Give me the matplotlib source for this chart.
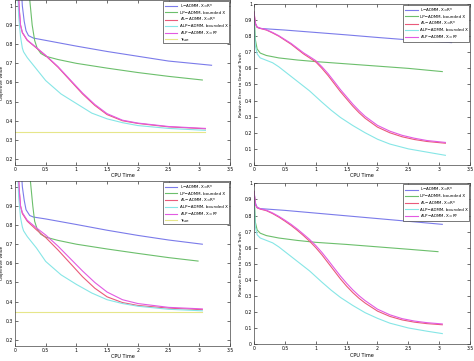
import matplotlib
matplotlib.use('Agg')
import matplotlib.pyplot as plt

# legend labels and colours
labels = ['L\u2212ADMM, X=R$^n$', 'LP\u2212ADMM, bounded X', 'AL\u2212ADMM, X=R$^n$',
          'ALP\u2212ADMM, bounded X', 'ALP\u2212ADMM, X=R$^n$', 'True']
colors = ['#7b7bea', '#6cbf6c', '#ea5a7a', '#86e6e6', '#e25ae2', '#e6e68a']

# ---- top-left: objective value, run 1
t_L1 = [0.10, 0.12, 0.15, 0.18, 0.22, 0.30, 0.50, 1.0, 1.5, 2.0, 2.5, 3.2]
y_L1 = [1.10, 1.00, 0.92, 0.87, 0.845, 0.832, 0.82, 0.79, 0.762, 0.737, 0.712, 0.69]
t_LP1 = [0.22, 0.25, 0.28, 0.32, 0.36, 0.42, 0.50, 0.70, 1.0, 1.5, 2.0, 2.5, 3.05]
y_LP1 = [1.10, 1.00, 0.90, 0.82, 0.78, 0.752, 0.737, 0.72, 0.70, 0.675, 0.652, 0.632, 0.613]
t_AL1 = [0.05, 0.07, 0.09, 0.12, 0.20, 0.35, 0.50, 0.70, 0.90, 1.1, 1.3, 1.5, 1.75, 2.0, 2.5, 3.1]
y_AL1 = [1.10, 0.98, 0.90, 0.86, 0.82, 0.78, 0.74, 0.68, 0.61, 0.54, 0.48, 0.432, 0.40, 0.386, 0.368, 0.358]
t_ALPb1 = [0.04, 0.06, 0.09, 0.12, 0.14, 0.20, 0.35, 0.50, 0.75, 1.0, 1.25, 1.5, 1.75, 2.0, 2.5, 3.1]
y_ALPb1 = [1.10, 0.95, 0.84, 0.78, 0.76, 0.73, 0.67, 0.61, 0.54, 0.49, 0.44, 0.41, 0.39, 0.375, 0.36, 0.35]
t_ALPr1 = [0.05, 0.07, 0.09, 0.12, 0.20, 0.35, 0.50, 0.70, 0.90, 1.1, 1.3, 1.5, 1.75, 2.0, 2.5, 3.1]
y_ALPr1 = [1.10, 0.98, 0.90, 0.862, 0.822, 0.782, 0.742, 0.683, 0.614, 0.545, 0.485, 0.437, 0.403, 0.388, 0.37, 0.36]
t_true1 = [0.0, 3.1]
y_true1 = [0.342, 0.342]

# ---- bottom-left: objective value, run 2
t_L2 = [0.10, 0.12, 0.15, 0.18, 0.24, 0.30, 0.50, 1.0, 1.5, 2.0, 2.5, 3.05]
y_L2 = [1.10, 1.00, 0.93, 0.88, 0.85, 0.842, 0.832, 0.803, 0.773, 0.746, 0.722, 0.70]
t_LP2 = [0.23, 0.26, 0.29, 0.32, 0.36, 0.42, 0.50, 0.70, 1.0, 1.5, 2.0, 2.5, 2.98]
y_LP2 = [1.10, 1.00, 0.90, 0.82, 0.78, 0.752, 0.737, 0.72, 0.70, 0.675, 0.652, 0.63, 0.612]
t_AL2 = [0.05, 0.07, 0.09, 0.12, 0.20, 0.35, 0.50, 0.70, 0.90, 1.1, 1.3, 1.5, 1.75, 2.0, 2.5, 3.05]
y_AL2 = [1.10, 0.98, 0.90, 0.86, 0.82, 0.775, 0.735, 0.67, 0.60, 0.53, 0.47, 0.425, 0.395, 0.38, 0.366, 0.358]
t_ALPb2 = [0.04, 0.06, 0.09, 0.12, 0.14, 0.20, 0.35, 0.50, 0.75, 1.0, 1.25, 1.5, 1.75, 2.0, 2.5, 3.05]
y_ALPb2 = [1.10, 0.95, 0.84, 0.79, 0.77, 0.74, 0.68, 0.61, 0.54, 0.49, 0.445, 0.41, 0.39, 0.376, 0.36, 0.352]
t_ALPr2 = [0.05, 0.07, 0.09, 0.12, 0.20, 0.35, 0.50, 0.70, 0.90, 1.1, 1.3, 1.5, 1.75, 2.0, 2.5, 3.05]
y_ALPr2 = [1.10, 0.98, 0.90, 0.865, 0.825, 0.785, 0.748, 0.69, 0.625, 0.56, 0.50, 0.45, 0.41, 0.39, 0.37, 0.362]
t_true2 = [0.0, 3.05]
y_true2 = [0.345, 0.345]

# ---- top-right: relative error, run 1
t_L3 = [0.0, 0.02, 0.05, 0.10, 0.5, 1.0, 1.5, 2.0, 2.5, 3.2]
y_L3 = [0.93, 0.88, 0.855, 0.848, 0.838, 0.823, 0.808, 0.792, 0.777, 0.76]
t_LP3 = [0.0, 0.02, 0.05, 0.10, 0.2, 0.4, 0.7, 1.0, 1.5, 2.0, 2.5, 3.05]
y_LP3 = [0.95, 0.78, 0.72, 0.695, 0.68, 0.665, 0.652, 0.642, 0.628, 0.614, 0.60, 0.58]
t_AL3 = [0.0, 0.02, 0.05, 0.1, 0.2, 0.3, 0.4, 0.5, 0.6, 0.7, 0.8, 0.9, 1.0, 1.1, 1.2, 1.3,
         1.4, 1.5, 1.6, 1.7, 1.8, 2.0, 2.2, 2.4, 2.6, 2.8, 3.1]
y_AL3 = [0.95, 0.88, 0.855, 0.848, 0.838, 0.82, 0.80, 0.775, 0.75, 0.72, 0.69, 0.665, 0.64, 0.60,
         0.555, 0.505, 0.455, 0.41, 0.365, 0.325, 0.29, 0.235, 0.20, 0.175, 0.158, 0.146, 0.135]
t_ALPb3 = [0.0, 0.02, 0.05, 0.1, 0.2, 0.3, 0.4, 0.5, 0.6, 0.75, 0.9, 1.0, 1.1, 1.25, 1.4, 1.5,
           1.6, 1.8, 2.0, 2.2, 2.5, 2.8, 3.1]
y_ALPb3 = [0.90, 0.74, 0.69, 0.665, 0.65, 0.635, 0.61, 0.58, 0.55, 0.505, 0.46, 0.425, 0.39, 0.34,
           0.295, 0.27, 0.245, 0.20, 0.16, 0.13, 0.10, 0.08, 0.06]
t_ALPr3 = [0.0, 0.02, 0.05, 0.1, 0.2, 0.3, 0.4, 0.5, 0.6, 0.7, 0.8, 0.9, 1.0, 1.1, 1.2, 1.3,
           1.4, 1.5, 1.6, 1.7, 1.8, 2.0, 2.2, 2.4, 2.6, 2.8, 3.1]
y_ALPr3 = [0.95, 0.88, 0.857, 0.85, 0.84, 0.823, 0.803, 0.779, 0.755, 0.726, 0.697, 0.673, 0.648, 0.61,
           0.567, 0.518, 0.468, 0.423, 0.378, 0.338, 0.302, 0.246, 0.21, 0.184, 0.166, 0.152, 0.14]

# ---- bottom-right: relative error, run 2
t_L4 = [0.0, 0.02, 0.05, 0.10, 0.5, 1.0, 1.5, 2.0, 2.5, 3.05]
y_L4 = [0.95, 0.88, 0.85, 0.843, 0.832, 0.815, 0.798, 0.781, 0.764, 0.745]
t_LP4 = [0.0, 0.02, 0.05, 0.10, 0.2, 0.4, 0.7, 1.0, 1.5, 2.0, 2.5, 2.98]
y_LP4 = [0.95, 0.76, 0.71, 0.69, 0.675, 0.66, 0.645, 0.633, 0.62, 0.605, 0.59, 0.575]
t_AL4 = [0.0, 0.02, 0.05, 0.1, 0.2, 0.3, 0.4, 0.5, 0.6, 0.7, 0.8, 0.9, 1.0, 1.1, 1.2, 1.3,
         1.4, 1.5, 1.6, 1.7, 1.8, 2.0, 2.2, 2.4, 2.6, 2.8, 3.05]
y_AL4 = [0.95, 0.87, 0.848, 0.84, 0.83, 0.812, 0.79, 0.765, 0.738, 0.708, 0.675, 0.64, 0.60, 0.555,
         0.505, 0.455, 0.405, 0.36, 0.32, 0.285, 0.255, 0.205, 0.172, 0.15, 0.136, 0.127, 0.12]
t_ALPb4 = [0.0, 0.02, 0.05, 0.1, 0.2, 0.3, 0.4, 0.5, 0.6, 0.75, 0.9, 1.0, 1.1, 1.25, 1.4, 1.5,
           1.6, 1.8, 2.0, 2.2, 2.5, 2.8, 3.05]
y_ALPb4 = [0.90, 0.73, 0.68, 0.66, 0.645, 0.63, 0.605, 0.575, 0.545, 0.50, 0.455, 0.42, 0.385, 0.335,
           0.29, 0.265, 0.24, 0.195, 0.16, 0.13, 0.10, 0.08, 0.065]
t_ALPr4 = [0.0, 0.02, 0.05, 0.1, 0.2, 0.3, 0.4, 0.5, 0.6, 0.7, 0.8, 0.9, 1.0, 1.1, 1.2, 1.3,
           1.4, 1.5, 1.6, 1.7, 1.8, 2.0, 2.2, 2.4, 2.6, 2.8, 3.05]
y_ALPr4 = [0.95, 0.87, 0.85, 0.842, 0.833, 0.816, 0.795, 0.771, 0.745, 0.716, 0.684, 0.651, 0.613, 0.57,
           0.522, 0.472, 0.423, 0.378, 0.337, 0.301, 0.27, 0.217, 0.182, 0.158, 0.143, 0.133, 0.125]

xticks = [0, 0.5, 1, 1.5, 2, 2.5, 3, 3.5]
yticks_obj = [0.2, 0.3, 0.4, 0.5, 0.6, 0.7, 0.8, 0.9, 1]
yticks_err = [0, 0.1, 0.2, 0.3, 0.4, 0.5, 0.6, 0.7, 0.8, 0.9, 1]

panels = [
    # rect, series, ylabel, ylim, yticks
    ([0.0316, 0.543, 0.4536, 0.457],
     [(t_L1, y_L1), (t_LP1, y_LP1), (t_AL1, y_AL1), (t_ALPb1, y_ALPb1), (t_ALPr1, y_ALPr1), (t_true1, y_true1)],
     'Objective Value', (0.169, 1.031), yticks_obj),
    ([0.536, 0.543, 0.4557, 0.446],
     [(t_L3, y_L3), (t_LP3, y_LP3), (t_AL3, y_AL3), (t_ALPb3, y_ALPb3), (t_ALPr3, y_ALPr3)],
     'Relative Error to Ground Truth', (0.0, 1.0), yticks_err),
    ([0.0316, 0.042, 0.4536, 0.457],
     [(t_L2, y_L2), (t_LP2, y_LP2), (t_AL2, y_AL2), (t_ALPb2, y_ALPb2), (t_ALPr2, y_ALPr2), (t_true2, y_true2)],
     'Objective Value', (0.169, 1.031), yticks_obj),
    ([0.536, 0.047, 0.4557, 0.445],
     [(t_L4, y_L4), (t_LP4, y_LP4), (t_AL4, y_AL4), (t_ALPb4, y_ALPb4), (t_ALPr4, y_ALPr4)],
     'Relative Error to Ground Truth', (0.0, 1.0), yticks_err),
]

fig = plt.figure(figsize=(4.74, 3.61), dpi=100)

for rect, series, ylab, ylim, yt in panels:
    ax = fig.add_axes(rect)
    for i, (t, y) in enumerate(series):
        ax.plot(t, y, color=colors[i], lw=0.8, label=labels[i])
    ax.set_xlim(0, 3.5)
    ax.set_ylim(*ylim)
    ax.set_xticks(xticks)
    ax.set_xticklabels(['0', '0.5', '1', '1.5', '2', '2.5', '3', '3.5'])
    ax.set_yticks(yt)
    ax.set_yticklabels(['%g' % v for v in yt])
    ax.tick_params(direction='in', labelsize=3.3, length=2, width=0.4, pad=1.5,
                   top=True, right=True)
    for s in ax.spines.values():
        s.set_linewidth(0.5)
        s.set_color('#444444')
    ax.set_xlabel('CPU Time', fontsize=3.6, labelpad=1)
    ax.set_ylabel(ylab, fontsize=3.2)
    ax.yaxis.set_label_coords(-0.05, 0.5)
    leg = ax.legend(loc='upper right', fontsize=2.9, handlelength=3.2, borderaxespad=0.25,
                    labelspacing=0.2, borderpad=0.3, handletextpad=0.6,
                    fancybox=False, framealpha=1)
    leg.get_frame().set_linewidth(0.5)
    leg.get_frame().set_edgecolor('#444444')

fig.savefig('out.png', dpi=100)
